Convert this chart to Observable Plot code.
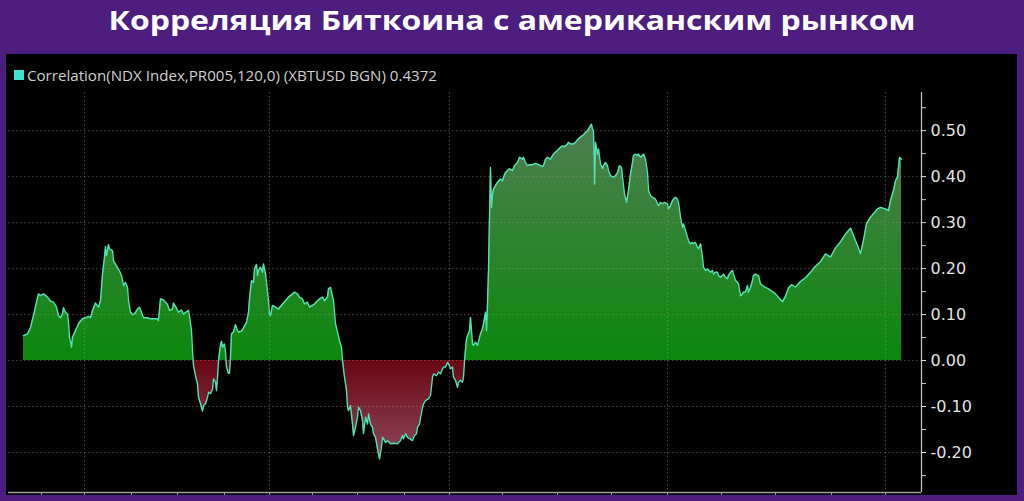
<!DOCTYPE html>
<html>
<head>
<meta charset="utf-8">
<script src="https://cdn.jsdelivr.net/npm/d3@7"></script>
<script src="https://cdn.jsdelivr.net/npm/@observablehq/plot@0.6"></script>
<style>
html, body { margin: 0; padding: 0; }
body { width: 1024px; height: 501px; background: #4d1e7f; position: relative; overflow: hidden; }
#title { position: absolute; left: 0; top: 0; }
#panel { position: absolute; left: 6px; top: 54px; width: 1011px; height: 441px; background: #000; }
#chart { position: absolute; left: 0; top: 0; }
#legend { position: absolute; left: 0; top: 0; }
</style>
</head>
<body>
<svg id="title" width="1024" height="54">
  <text x="512" y="30" text-anchor="middle" fill="#ffffff" font-family="Open Sans" font-weight="700" font-size="26.5" textLength="807" lengthAdjust="spacingAndGlyphs">Корреляция Биткоина с американским рынком</text>
</svg>
<div id="panel">
  <div id="chart"></div>
  <svg id="legend" width="600" height="40">
    <rect id="swatch" x="8" y="16" width="10" height="10"></rect>
    <text id="legendText" x="21" y="27" fill="#cfcfcf" font-family="Open Sans" font-size="14" textLength="410" lengthAdjust="spacingAndGlyphs"></text>
  </svg>
</div>
<script>
// ---- data ----
const seriesName = "Correlation(NDX Index,PR005,120,0) (XBTUSD BGN)";
const lastValue = "0.4372";
const seriesColor = "#3fe0d0";
// [day, correlation]
const corrSeries = [
[0,.054],[4,.058],[7,.072],[10,.098],[13,.127],[15,.145],[17,.141],[20,.145],[24,.138],[27,.129],[30,.127],[33,.116],[35,.098],[37,.093],[39,.101],[40,.115],[42,.105],[44,.101],[45,.083],[46,.051],[48,.029],[49,.051],[52,.065],[55,.080],[59,.091],[62,.093],[65,.096],[67,.093],[69,.109],[72,.125],[75,.116],[77,.130],[79,.188],[81,.225],[82,.248],[83,.228],[85,.252],[86,.243],[89,.239],[90,.217],[93,.206],[95,.199],[98,.185],[100,.163],[102,.170],[104,.159],[105,.130],[107,.105],[109,.100],[111,.101],[114,.112],[116,.116],[118,.105],[120,.093],[124,.093],[127,.091],[130,.091],[134,.091],[135,.087],[137,.134],[140,.132],[144,.122],[146,.109],[149,.112],[150,.125],[153,.114],[155,.105],[158,.110],[160,.101],[163,.106],[165,.109],[166,.096],[168,.065],[169,.022],[170,-.011],[172,-.033],[174,-.051],[175,-.080],[177,-.094],[179,-.110],[180,-.098],[182,-.094],[184,-.080],[185,-.069],[187,-.072],[189,-.062],[190,-.040],[192,-.047],[193,-.065],[194,-.036],[195,0],[197,.033],[198,.042],[199,.029],[201,.036],[202,.018],[203,-.014],[205,-.028],[206,-.028],[207,.007],[208,.058],[210,.062],[212,.078],[214,.065],[215,.062],[218,.064],[220,.071],[223,.083],[225,.105],[226,.134],[228,.174],[230,.170],[231,.199],[233,.209],[234,.185],[235,.196],[237,.203],[239,.192],[240,.210],[242,.188],[243,.170],[245,.130],[246,.101],[247,.098],[249,.120],[252,.116],[255,.112],[259,.123],[262,.130],[265,.138],[269,.145],[271,.149],[274,.145],[276,.138],[279,.134],[281,.123],[284,.127],[286,.116],[289,.120],[291,.123],[294,.130],[296,.134],[299,.138],[301,.130],[304,.138],[305,.156],[307,.159],[310,.130],[312,.080],[314,.062],[316,.043],[318,.029],[319,0],[321,-.036],[323,-.065],[324,-.101],[325,-.109],[327,-.098],[329,-.138],[330,-.163],[332,-.145],[334,-.123],[335,-.101],[337,-.109],[339,-.130],[340,-.159],[342,-.123],[344,-.138],[345,-.116],[347,-.138],[349,-.145],[350,-.159],[352,-.167],[354,-.192],[355,-.203],[356,-.214],[358,-.188],[359,-.167],[360,-.170],[362,-.178],[364,-.174],[367,-.181],[370,-.180],[374,-.181],[377,-.174],[379,-.163],[380,-.170],[382,-.159],[384,-.167],[386,-.170],[389,-.174],[391,-.163],[393,-.159],[394,-.145],[396,-.138],[398,-.112],[400,-.094],[402,-.087],[405,-.083],[407,-.076],[409,-.036],[410,-.029],[413,-.033],[415,-.025],[417,-.029],[419,-.018],[420,-.014],[422,-.014],[424,-.004],[425,-.007],[427,-.018],[429,-.014],[430,-.036],[432,-.043],[434,-.058],[435,-.047],[437,-.043],[439,-.047],[440,-.036],[441,0],[443,.047],[444,.054],[446,.065],[447,.094],[449,.036],[450,.033],[452,.040],[454,.033],[457,.058],[459,.069],[460,.080],[462,.105],[463,.065],[464,.123],[465,.196],[466,.312],[467,.420],[468,.333],[469,.362],[470,.373],[472,.380],[474,.388],[477,.395],[479,.391],[480,.399],[482,.409],[484,.413],[486,.417],[489,.413],[491,.424],[494,.431],[496,.442],[499,.438],[500,.442],[502,.431],[504,.424],[506,.426],[509,.426],[512,.429],[515,.426],[519,.422],[520,.424],[522,.438],[524,.442],[527,.438],[530,.449],[532,.453],[534,.457],[537,.464],[539,.467],[541,.465],[544,.471],[545,.475],[547,.471],[550,.471],[552,.475],[554,.480],[557,.486],[560,.491],[562,.496],[564,.500],[566,.507],[568,.514],[569,.504],[570,.500],[571,.384],[572,.475],[574,.449],[575,.460],[577,.428],[579,.417],[580,.424],[582,.431],[584,.424],[585,.413],[587,.402],[590,.399],[592,.402],[594,.409],[596,.424],[598,.420],[599,.399],[601,.362],[603,.344],[605,.370],[607,.406],[609,.431],[610,.446],[612,.449],[614,.446],[615,.449],[617,.442],[619,.446],[620,.449],[622,.438],[624,.409],[625,.370],[627,.359],[629,.355],[632,.351],[634,.341],[635,.337],[637,.344],[639,.341],[641,.344],[644,.341],[645,.330],[647,.337],[649,.348],[650,.351],[652,.355],[654,.351],[655,.344],[657,.312],[659,.290],[660,.297],[662,.283],[664,.268],[665,.261],[667,.254],[669,.257],[670,.254],[672,.257],[674,.246],[675,.243],[677,.254],[678,.239],[679,.225],[680,.203],[682,.196],[684,.199],[687,.192],[689,.196],[690,.188],[692,.192],[694,.192],[695,.185],[697,.181],[699,.185],[700,.188],[702,.181],[704,.178],[705,.185],[707,.192],[709,.196],[710,.188],[712,.174],[714,.170],[715,.167],[717,.141],[719,.145],[720,.149],[722,.149],[724,.163],[725,.149],[727,.159],[729,.174],[730,.185],[732,.188],[734,.185],[735,.185],[737,.167],[739,.163],[742,.159],[745,.156],[749,.150],[752,.145],[756,.135],[759,.128],[762,.140],[765,.158],[768,.165],[772,.160],[777,.172],[782,.180],[787,.192],[792,.205],[797,.215],[802,.232],[807,.225],[812,.245],[817,.258],[822,.275],[827,.288],[830,.272],[834,.250],[837,.232],[840,.262],[843,.298],[847,.312],[851,.322],[854,.330],[857,.333],[862,.330],[865,.326],[867,.348],[870,.370],[872,.391],[874,.399],[875,.420],[876,.442],[878,.438]
];
const yTicks = [-0.2, -0.1, 0, 0.1, 0.2, 0.3, 0.4, 0.5];
const yMinorTicks = [-0.25, -0.15, -0.05, 0.05, 0.15, 0.25, 0.35, 0.45, 0.55];
const xTicks = [18, 61, 108, 154, 201, 246, 289, 334, 381, 426, 479, 534, 588, 644, 698, 752, 808, 862];
const xGridDays = [61, 246, 426, 644, 862];
const xDomain = [-15, 898];
const yDomain = [-0.287, 0.583];

// ---- legend ----
document.getElementById("swatch").setAttribute("fill", seriesColor);
document.getElementById("legendText").textContent = seriesName + " " + lastValue;

const data = corrSeries.map(([day, v]) => ({day, v}));

const plot = Plot.plot({
  width: 1011,
  height: 441,
  marginLeft: 2,
  marginRight: 96,
  marginTop: 38,
  marginBottom: 3,
  style: {background: "transparent", color: "#e2e2e2", fontFamily: "DejaVu Sans", fontSize: "16px", overflow: "visible"},
  x: {domain: xDomain},
  y: {domain: yDomain},
  marks: [
    Plot.areaY(data, {x: "day", y: "v", fill: "url(#corrFill)"}),
    Plot.gridY(yTicks, {stroke: "#9a9a9a", strokeOpacity: 0.45, strokeDasharray: "1.5,2.5"}),
    Plot.gridX(xGridDays, {stroke: "#9a9a9a", strokeOpacity: 0.45, strokeDasharray: "1.5,2.5"}),
    Plot.lineY(data, {x: "day", y: "v", stroke: "#52e3b4", strokeWidth: 1.4}),
    Plot.ruleX([xDomain[1]], {stroke: "#c8c8c8", strokeWidth: 1.2}),
    Plot.ruleY([yDomain[0]], {stroke: "#9a9a9a", strokeWidth: 1.5}),
    Plot.axisY(yTicks, {anchor: "right", tickSize: 4, tickPadding: 5, tickFormat: d => d.toFixed(2), color: "#e2e2e2", fontSize: 16, label: null}),
    Plot.axisY(yMinorTicks, {anchor: "right", tickSize: 4, tickFormat: () => "", color: "#c8c8c8", label: null}),
    Plot.axisX(xTicks, {anchor: "bottom", tickSize: 3, tickFormat: () => "", color: "#9a9a9a", label: null})
  ]
});

// gradient fill: green above zero, red below zero
const ys = plot.scale("y");
const Y = v => ys.apply(v);
const gTop = 0.52, gBot = -0.22;
const z = (Y(0) - Y(gTop)) / (Y(gBot) - Y(gTop));
const grad = d3.select(plot).insert("defs", ":first-child")
  .append("linearGradient")
  .attr("id", "corrFill")
  .attr("gradientUnits", "userSpaceOnUse")
  .attr("x1", 0).attr("x2", 0)
  .attr("y1", Y(gTop)).attr("y2", Y(gBot));
grad.append("stop").attr("offset", 0).attr("stop-color", "#507e52");
grad.append("stop").attr("offset", z).attr("stop-color", "#0c880c");
grad.append("stop").attr("offset", z).attr("stop-color", "#6a0612");
grad.append("stop").attr("offset", 1).attr("stop-color", "#8c4a5c");

document.getElementById("chart").appendChild(plot);
</script>
</body>
</html>
